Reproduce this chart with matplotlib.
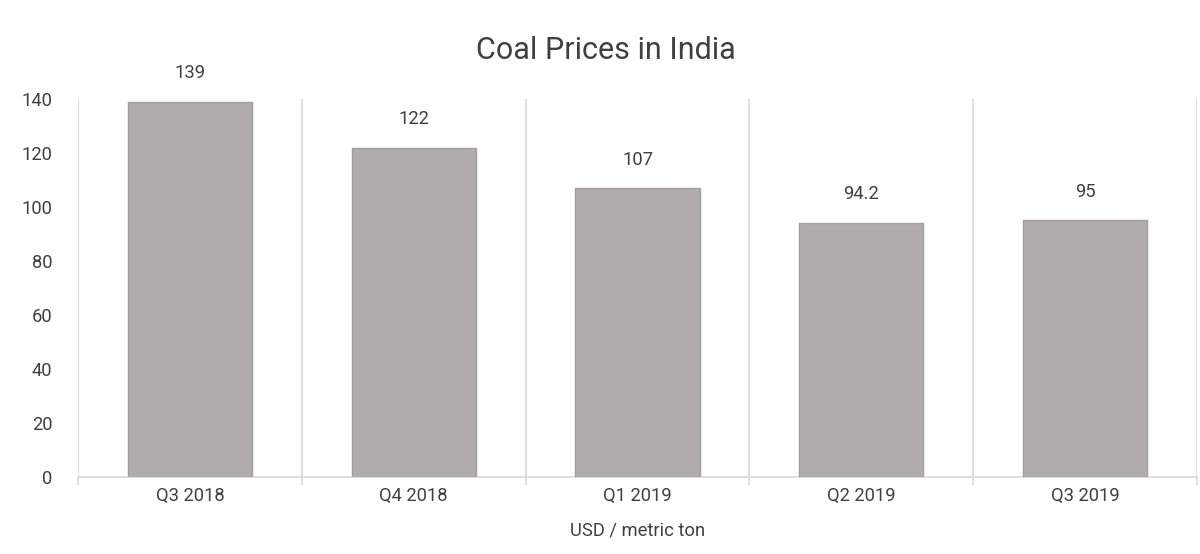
import matplotlib
matplotlib.use("Agg")
import matplotlib.pyplot as plt
import numpy as np

categories = ["Q3 2018", "Q4 2018", "Q1 2019", "Q2 2019", "Q3 2019"]
values = [139, 122, 107, 94.2, 95]
value_labels = ["139", "122", "107", "94.2", "95"]
yticks = [0, 20, 40, 60, 80, 100, 120, 140]

plt.rcParams['font.family'] = ['Roboto', 'DejaVu Sans']
text_color = "#404040"
grid_color = "#D9D9D9"
fs = 13.2

fig = plt.figure(figsize=(12, 5.54), dpi=100)
ax = fig.add_axes([0.065, 0.139, 0.9325, 0.6825])

x = np.arange(len(categories))
ax.bar(x, values, width=0.555, color="#AFACAB", edgecolor="#A3A09F", linewidth=1, zorder=3)

for xi, v, lab in zip(x, values, value_labels):
    ax.annotate(lab, (xi, v), xytext=(0, 14), textcoords="offset points",
                ha="center", va="bottom", fontsize=fs, color=text_color)

ax.set_xlim(-0.5, len(categories) - 0.5)
ax.set_ylim(0, 140)
ax.set_yticks(yticks)
ax.set_xticks(x)
ax.set_xticklabels(categories)
ax.set_xticks(np.arange(-0.5, len(categories)), minor=True)
ax.grid(True, which="minor", axis="x", color=grid_color, linewidth=1.2, zorder=0)
ax.grid(False, which="major")
ax.tick_params(axis="x", which="major", length=0, labelsize=fs, labelcolor=text_color, pad=7)
ax.tick_params(axis="x", which="minor", length=6, color=grid_color, width=1.2)
ax.tick_params(axis="y", length=0, labelsize=fs, labelcolor=text_color, pad=18.5)
for s in ["top", "right", "left"]:
    ax.spines[s].set_visible(False)
ax.spines["bottom"].set_color(grid_color)
ax.spines["bottom"].set_linewidth(1.2)

ax.set_xlabel("USD / metric ton", fontsize=fs, color=text_color, labelpad=12)
fig.suptitle("Coal Prices in India", fontsize=22, color=text_color, x=0.505, y=0.935)

fig.savefig("out.png", dpi=100, facecolor="white")
